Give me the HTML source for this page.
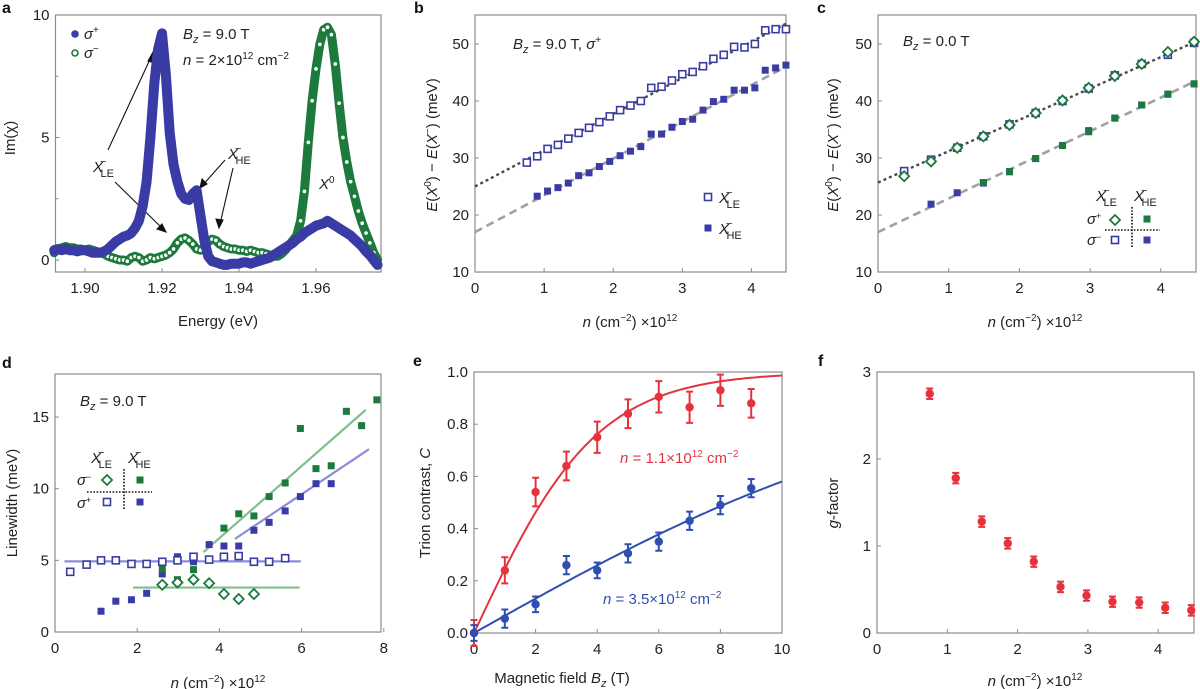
<!DOCTYPE html>
<html><head><meta charset="utf-8">
<style>
html,body{margin:0;padding:0;background:#fff;}
svg{display:block;font-family:"Liberation Sans",Arial,sans-serif;}
.t{font-size:15px;fill:#222;}
.lt{font-size:16px;font-weight:bold;fill:#111;}
.it{font-style:italic;}
</style></head>
<body>
<svg id="fig" width="1200" height="689" viewBox="0 0 1200 689" xmlns="http://www.w3.org/2000/svg">
<g id="static">
<text class="lt" x="2" y="13">a</text>
<text class="lt" x="414" y="13">b</text>
<text class="lt" x="817" y="13">c</text>
<text class="lt" x="2" y="368">d</text>
<text class="lt" x="413" y="366">e</text>
<text class="lt" x="818" y="366">f</text>

<text class="t" transform="translate(15,138) rotate(-90)" text-anchor="middle">Im(χ)</text>
<text class="t" x="218" y="326" text-anchor="middle">Energy (eV)</text>
<text class="t" x="183" y="39"><tspan class="it">B</tspan><tspan class="it" font-size="11" dy="4">z</tspan><tspan dy="-4"> = 9.0 T</tspan></text>
<text class="t" x="183" y="65"><tspan class="it">n</tspan> = 2×10<tspan font-size="10" dy="-6">12</tspan><tspan dy="6"> cm</tspan><tspan font-size="10" dy="-6">−2</tspan></text>
<circle cx="75" cy="34" r="3.8" fill="#3b3ba6"/>
<text class="t" x="84" y="39" font-size="14"><tspan class="it">σ</tspan><tspan font-size="10" dy="-6">+</tspan></text>
<circle cx="75" cy="53" r="3" fill="#fff" stroke="#1b7a3c" stroke-width="1.6"/>
<text class="t" x="84" y="58" font-size="14"><tspan class="it">σ</tspan><tspan font-size="10" dy="-6">−</tspan></text>

<g stroke="#111" stroke-width="1.1" fill="#111">
<line x1="108" y1="150" x2="152" y2="55"/><polygon points="153,52 148,61 155,63"/>
<line x1="115" y1="182" x2="163" y2="229"/><polygon points="166,232 157,229 162,224"/>
<line x1="225" y1="160" x2="202" y2="186"/><polygon points="200,188 202,179 207,184"/>
<line x1="233" y1="168" x2="220" y2="224"/><polygon points="219,228 216,219 223,220"/>
</g>
<text class="t" x="93" y="172"><tspan class="it">X</tspan><tspan font-size="11" dy="-7" dx="-3">−</tspan><tspan font-size="11" dy="12" dx="-6">LE</tspan></text>
<text class="t" x="228" y="159"><tspan class="it">X</tspan><tspan font-size="11" dy="-7" dx="-3">−</tspan><tspan font-size="11" dy="12" dx="-6">HE</tspan></text>
<text class="t" x="319" y="189"><tspan class="it">X</tspan><tspan font-size="10" dy="-6">0</tspan></text>

<text class="t" transform="translate(437,145) rotate(-90)" text-anchor="middle"><tspan class="it">E</tspan>(<tspan class="it">X</tspan><tspan font-size="10" dy="-6">0</tspan><tspan dy="6">) − </tspan><tspan class="it">E</tspan>(<tspan class="it">X</tspan><tspan font-size="10" dy="-6">−</tspan><tspan dy="6">) (meV)</tspan></text>
<text class="t" x="630" y="327" text-anchor="middle"><tspan class="it">n</tspan> (cm<tspan font-size="10" dy="-6">−2</tspan><tspan dy="6">) ×10</tspan><tspan font-size="10" dy="-6">12</tspan></text>
<text class="t" x="513" y="49"><tspan class="it">B</tspan><tspan class="it" font-size="11" dy="4">z</tspan><tspan dy="-4"> = 9.0 T, </tspan><tspan class="it">σ</tspan><tspan font-size="10" dy="-6">+</tspan></text>
<rect x="704.5" y="193.5" width="7" height="7" fill="#fff" stroke="#3b3ba6" stroke-width="1.6"/>
<text class="t" x="719" y="203"><tspan class="it">X</tspan><tspan font-size="11" dy="-7" dx="-3">−</tspan><tspan font-size="11" dy="12" dx="-6">LE</tspan></text>
<rect x="704.5" y="224.5" width="7" height="7" fill="#3b3ba6"/>
<text class="t" x="719" y="234"><tspan class="it">X</tspan><tspan font-size="11" dy="-7" dx="-3">−</tspan><tspan font-size="11" dy="12" dx="-6">HE</tspan></text>

<text class="t" transform="translate(838,145) rotate(-90)" text-anchor="middle"><tspan class="it">E</tspan>(<tspan class="it">X</tspan><tspan font-size="10" dy="-6">0</tspan><tspan dy="6">) − </tspan><tspan class="it">E</tspan>(<tspan class="it">X</tspan><tspan font-size="10" dy="-6">−</tspan><tspan dy="6">) (meV)</tspan></text>
<text class="t" x="1035" y="327" text-anchor="middle"><tspan class="it">n</tspan> (cm<tspan font-size="10" dy="-6">−2</tspan><tspan dy="6">) ×10</tspan><tspan font-size="10" dy="-6">12</tspan></text>
<text class="t" x="903" y="46"><tspan class="it">B</tspan><tspan class="it" font-size="11" dy="4">z</tspan><tspan dy="-4"> = 0.0 T</tspan></text>
<g>
<text class="t" x="1096" y="201"><tspan class="it">X</tspan><tspan font-size="11" dy="-7" dx="-3">−</tspan><tspan font-size="11" dy="12" dx="-6">LE</tspan></text>
<text class="t" x="1134" y="201"><tspan class="it">X</tspan><tspan font-size="11" dy="-7" dx="-3">−</tspan><tspan font-size="11" dy="12" dx="-6">HE</tspan></text>
<text class="t" x="1087" y="224" font-size="13"><tspan class="it">σ</tspan><tspan font-size="9" dy="-5">+</tspan></text>
<text class="t" x="1087" y="245" font-size="13"><tspan class="it">σ</tspan><tspan font-size="9" dy="-5">−</tspan></text>
<polygon points="1115,215 1120,220 1115,225 1110,220" fill="#fff" stroke="#1b7a3c" stroke-width="1.8"/>
<rect x="1143.5" y="215.5" width="7" height="7" fill="#1b7a3c"/>
<rect x="1111.5" y="236.5" width="7" height="7" fill="#fff" stroke="#3b3ba6" stroke-width="1.6"/>
<rect x="1143.5" y="236.5" width="7" height="7" fill="#3b3ba6"/>
<line x1="1105" y1="230" x2="1160" y2="230" stroke="#111" stroke-width="1.6" stroke-dasharray="1.6,1.6"/>
<line x1="1132" y1="207" x2="1132" y2="248" stroke="#111" stroke-width="1.6" stroke-dasharray="1.6,1.6"/>
</g>

<text class="t" transform="translate(17,503) rotate(-90)" text-anchor="middle">Linewidth (meV)</text>
<text class="t" x="218" y="688" text-anchor="middle"><tspan class="it">n</tspan> (cm<tspan font-size="10" dy="-6">−2</tspan><tspan dy="6">) ×10</tspan><tspan font-size="10" dy="-6">12</tspan></text>
<text class="t" x="80" y="406"><tspan class="it">B</tspan><tspan class="it" font-size="11" dy="4">z</tspan><tspan dy="-4"> = 9.0 T</tspan></text>
<g>
<text class="t" x="91" y="463"><tspan class="it">X</tspan><tspan font-size="11" dy="-7" dx="-3">−</tspan><tspan font-size="11" dy="12" dx="-6">LE</tspan></text>
<text class="t" x="128" y="463"><tspan class="it">X</tspan><tspan font-size="11" dy="-7" dx="-3">−</tspan><tspan font-size="11" dy="12" dx="-6">HE</tspan></text>
<text class="t" x="77" y="485" font-size="13"><tspan class="it">σ</tspan><tspan font-size="9" dy="-5">−</tspan></text>
<text class="t" x="77" y="508" font-size="13"><tspan class="it">σ</tspan><tspan font-size="9" dy="-5">+</tspan></text>
<polygon points="107,475 112,480 107,485 102,480" fill="#fff" stroke="#1b7a3c" stroke-width="1.8"/>
<rect x="136.5" y="476.5" width="7" height="7" fill="#1b7a3c"/>
<rect x="103.5" y="498.5" width="7" height="7" fill="#fff" stroke="#3b3ba6" stroke-width="1.6"/>
<rect x="136.5" y="498.5" width="7" height="7" fill="#3b3ba6"/>
<line x1="87" y1="492" x2="152" y2="492" stroke="#111" stroke-width="1.6" stroke-dasharray="1.6,1.6"/>
<line x1="124" y1="469" x2="124" y2="509" stroke="#111" stroke-width="1.6" stroke-dasharray="1.6,1.6"/>
</g>

<text class="t" transform="translate(430,503) rotate(-90)" text-anchor="middle">Trion contrast, <tspan class="it">C</tspan></text>
<text class="t" x="562" y="683" text-anchor="middle">Magnetic field <tspan class="it">B</tspan><tspan class="it" font-size="11" dy="4">z</tspan><tspan dy="-4"> (T)</tspan></text>
<text class="t" x="620" y="463" style="fill:#e5333d"><tspan class="it">n</tspan> = 1.1×10<tspan font-size="10" dy="-6">12</tspan><tspan dy="6"> cm</tspan><tspan font-size="10" dy="-6">−2</tspan></text>
<text class="t" x="603" y="604" style="fill:#2e4fb0"><tspan class="it">n</tspan> = 3.5×10<tspan font-size="10" dy="-6">12</tspan><tspan dy="6"> cm</tspan><tspan font-size="10" dy="-6">−2</tspan></text>

<text class="t" transform="translate(838,503) rotate(-90)" text-anchor="middle"><tspan class="it">g</tspan>-factor</text>
<text class="t" x="1035" y="686" text-anchor="middle"><tspan class="it">n</tspan> (cm<tspan font-size="10" dy="-6">−2</tspan><tspan dy="6">) ×10</tspan><tspan font-size="10" dy="-6">12</tspan></text>
</g>
<g id="dyn"></g>
</svg>
<script>
// ---------- data ----------
const aEnergyStart = 1.892, aEnergyStep = 0.001;
const aSigmaPlus = [0.4,0.45,0.4,0.45,0.4,0.4,0.35,0.4,0.4,0.35,0.3,0.3,
0.3,0.35,0.45,0.6,0.75,0.85,0.95,1.0,1.1,1.3,1.6,2.2,3.2,5.0,7.2,8.6,9.25,7.6,5.2,3.9,3.2,2.7,2.5,2.45,2.7,2.85,1.8,0.8,0.15,-0.05,-0.1,-0.15,-0.2,-0.2,-0.15,-0.15,-0.15,-0.1,-0.1,-0.15,-0.1,-0.05,0.0,0.05,0.1,0.2,0.3,0.4,0.5,0.6,0.7,0.85,0.95,1.1,1.2,1.3,1.4,1.45,1.5,1.6,1.5,1.4,1.3,1.2,1.1,1.0,0.85,0.7,0.55,0.35,0.2,0.0,-0.2];
const aSigmaMinus = [0.3,0.45,0.5,0.55,0.5,0.5,0.45,0.45,0.4,0.45,0.4,0.35,
0.3,0.25,0.15,0.1,0.05,0.0,0.0,-0.05,0.1,0.15,0.1,-0.05,0.0,0.1,0.05,0.1,0.15,0.2,0.3,0.45,0.7,0.85,0.9,0.8,0.65,0.45,0.4,0.5,0.75,0.85,0.8,0.65,0.55,0.5,0.45,0.45,0.4,0.4,0.35,0.4,0.35,0.3,0.3,0.25,0.2,0.15,0.15,0.25,0.4,0.6,0.8,1.0,1.6,2.8,4.8,6.5,7.8,8.8,9.4,9.5,9.2,8.0,6.4,5.0,4.0,3.2,2.6,2.0,1.5,1.1,0.7,0.3,0.0];
const aXTicks = [1.90,1.92,1.94,1.96];
const aYTicks = [0,5,10];

const bLEn = [0.75,0.9,1.05,1.2,1.35,1.5,1.65,1.8,1.95,2.1,2.25,2.4,2.55,2.7,2.85,3.0,3.15,3.3,3.45,3.6,3.75,3.9,4.05,4.2,4.35,4.5];
const bLE = [29.2,30.3,31.6,32.3,33.4,34.4,35.3,36.3,37.3,38.4,39.2,40.0,42.3,42.5,43.6,44.7,45.1,46.1,47.4,48.1,49.5,49.4,50.0,52.4,52.6,52.6];
const bHEn = [0.9,1.05,1.2,1.35,1.5,1.65,1.8,1.95,2.1,2.25,2.4,2.55,2.7,2.85,3.0,3.15,3.3,3.45,3.6,3.75,3.9,4.05,4.2,4.35,4.5];
const bHE = [23.3,24.2,24.8,25.6,26.9,27.4,28.5,29.4,30.4,31.2,32.0,34.2,34.2,35.4,36.4,36.8,38.4,39.9,40.3,41.9,41.9,42.3,45.4,45.8,46.3];
const bFitIntercept = [25.0,17.0];
const bFitSlope = [6.35,6.45];
const nTicks = [0,1,2,3,4];
const eYTicksBC = [10,20,30,40,50];

const cN = [0.37,0.75,1.12,1.49,1.86,2.23,2.61,2.98,3.35,3.73,4.1,4.47];
const cLEplus = [26.8,29.4,31.8,33.8,35.8,37.9,40.1,42.3,44.4,46.5,48.6,50.4];
const cLEminus = [27.7,29.7,31.8,33.8,35.9,37.9,40.0,42.2,44.5,46.5,48.1,50.2];
const cHEminusN = [0.75,1.12,1.49,1.86,2.23,2.61,2.98,3.35,3.73,4.1,4.47];
const cHEminus = [21.9,23.9,25.6,27.6,29.9,32.2,34.8,37.0,39.3,41.2,43.0];
const cHEplusN = [1.49,1.86,2.23,2.61,2.98,3.35,3.73,4.1,4.47];
const cHEplus = [25.7,27.6,29.9,32.2,34.6,37.0,39.3,41.2,43.0];
const cFitIntercept = [25.7,17.0];
const cFitSlope = [5.5,5.9];

const dLEplusN = [0.37,0.77,1.12,1.48,1.86,2.23,2.61,2.98,3.37,3.75,4.11,4.47,4.84,5.21,5.6];
const dLEplus = [4.2,4.7,5.0,5.0,4.75,4.75,4.9,5.0,5.25,5.05,5.25,5.3,4.9,4.9,5.15];
const dHEplusN = [1.12,1.48,1.86,2.23,2.61,2.98,3.37,3.75,4.11,4.47,4.84,5.21,5.6,5.97,6.35,6.72];
const dHEplus = [1.45,2.15,2.25,2.7,4.05,5.25,4.9,6.1,6.0,6.0,7.1,7.65,8.45,9.45,10.35,10.35];
const dHEminusN = [2.61,2.98,3.37,4.11,4.47,4.84,5.21,5.6,5.97,6.35,6.72,7.09,7.46,7.83];
const dHEminus = [4.4,3.65,4.35,7.25,8.25,8.1,9.45,10.4,14.2,11.4,11.6,15.4,14.4,16.2];
const dLEminusN = [2.61,2.98,3.37,3.75,4.11,4.47,4.84];
const dLEminus = [3.3,3.45,3.65,3.4,2.65,2.3,2.65];
const dFitX1 = [0.23,1.9,3.61,4.38];
const dFitY1 = [4.93,3.1,5.57,6.5];
const dFitX2 = [5.98,5.95,7.56,7.64];
const dFitY2 = [4.93,3.1,15.5,12.76];
const dXTicks = [0,2,4,6,8];
const dYTicks = [0,5,10,15];

const eField = [0,1,2,3,4,5,6,7,8,9];
const eRed = [0.0,0.24,0.54,0.64,0.75,0.84,0.905,0.865,0.93,0.88];
const eRedErr = [0.05,0.05,0.055,0.055,0.06,0.055,0.06,0.06,0.06,0.055];
const eBlue = [0.0,0.055,0.11,0.26,0.24,0.305,0.35,0.43,0.49,0.555];
const eBlueErr = [0.03,0.035,0.03,0.035,0.03,0.035,0.035,0.035,0.035,0.035];
const eFitK = [0.25,0.0663];
const eXTicks = [0,2,4,6,8,10];
const eYTicks = [0.0,0.2,0.4,0.6,0.8,1.0];

const fN = [0.75,1.12,1.49,1.86,2.23,2.61,2.98,3.35,3.73,4.1,4.47];
const fG = [2.75,1.78,1.28,1.03,0.82,0.53,0.43,0.36,0.35,0.29,0.26];
const fErr = [0.06,0.06,0.06,0.06,0.06,0.06,0.06,0.06,0.06,0.06,0.06];
const fYTicks = [0,1,2,3];

// ---------- helpers ----------
const NS = 'http://www.w3.org/2000/svg';
const root = document.getElementById('dyn');
function mk(tag, attrs, parent) {
  const e = document.createElementNS(NS, tag);
  for (const k in attrs) e.setAttribute(k, attrs[k]);
  (parent || root).appendChild(e);
  return e;
}
const BLUE = '#3b3ba6', GREEN = '#1b7a3c', RED = '#e5333d', EBLUE = '#2e4fb0';

const xA = e => 85 + (e - 1.90) * 3850, yA = v => 260 - v * 24.5;
const xB = n => 475 + n * 69.1, yB = v => 272 - (v - 10) * 5.7;
const xC = n => 878 + n * 70.7, yC = v => 272 - (v - 10) * 5.7;
const xD = n => 55 + n * 41.1, yD = v => 632 - v * 14.33;
const xE = b => 474 + b * 30.8, yE = v => 633 - v * 261;
const xF = n => 877 + n * 70.3, yF = v => 633 - v * 87;

function axes(p, x0, y0, x1, y1, xs, xt, xfmt, ys, yt, yfmt) {
  const fr = mk('rect', {x: x0, y: y0, width: x1 - x0, height: y1 - y0, fill: 'none', stroke: '#8c8c8c', 'stroke-width': 1.2});
  
  
  xt.forEach(v => {
    const X = xs(v);
    const tk = mk('line', {x1: X, x2: X, y1: y1, y2: y1 - 4, stroke: '#8c8c8c', 'stroke-width': 1});
    
    
    const lb = mk('text', {x: X, y: y1 + 21, 'text-anchor': 'middle', class: 't'});
    lb.textContent = xfmt(v);
    
    
  });
  yt.forEach(v => {
    const Y = ys(v);
    const tk = mk('line', {x1: x0, x2: x0 + 4, y1: Y, y2: Y, stroke: '#8c8c8c', 'stroke-width': 1});
    
    
    const lb = mk('text', {x: x0 - 6, y: Y + 5, 'text-anchor': 'end', class: 't'});
    lb.textContent = yfmt(v);
    
    
  });
}
function sq(x, y, s, fill, stroke, name) {
  const r = mk('rect', {x: x - s / 2, y: y - s / 2, width: s, height: s, fill: fill, stroke: stroke || 'none', 'stroke-width': stroke ? 1.6 : 0});
  
  
}
function dia(x, y, s, color, name) {
  const d = mk('polygon', {points: `${x},${y - s} ${x + s},${y} ${x},${y + s} ${x - s},${y}`, fill: '#fff', stroke: color, 'stroke-width': 1.8});
  
  
}
function fitLine(xs, ys, xa, ya, xb, yb, color, w, dash, name) {
  const l = mk('line', {x1: xs(xa), y1: ys(ya), x2: xs(xb), y2: ys(yb), stroke: color, 'stroke-width': w});
  if (dash) l.setAttribute('stroke-dasharray', dash);
  
  
}

// ---------- panel a ----------
axes('a', 55.5, 15, 381, 272, xA, aXTicks, v => v.toFixed(2), yA, aYTicks, v => String(v));
[2.5, 7.5].forEach(v => {
  const tk = mk('line', {x1: 55.5, x2: 58.5, y1: yA(v), y2: yA(v), stroke: '#8c8c8c', 'stroke-width': 1});
  
  
});
function spectrum(vals, color, open, name) {
  const pts = vals.map((v, i) => xA(aEnergyStart + i * aEnergyStep).toFixed(1) + ',' + yA(v).toFixed(1)).join(' ');
  const band = mk('polyline', {points: pts, fill: 'none', stroke: color, 'stroke-width': open ? 9 : 10, 'stroke-linejoin': 'round', 'stroke-linecap': 'round'});
  
  
  vals.forEach((v, i) => {
    const c = mk('circle', {cx: xA(aEnergyStart + i * aEnergyStep), cy: yA(v), r: open ? 2.6 : 4.5, fill: open ? '#fff' : color, stroke: color, 'stroke-width': open ? 1.5 : 0});
    
    
  });
}
spectrum(aSigmaMinus, GREEN, true, 'a-sigma-minus');
spectrum(aSigmaPlus, BLUE, false, 'a-sigma-plus');

// ---------- panel b ----------
axes('b', 475, 15, 786, 272, xB, nTicks, v => String(v), yB, eYTicksBC, v => String(v));
fitLine(xB, yB, 0, bFitIntercept[0], 4.5, bFitIntercept[0] + bFitSlope[0] * 4.5, '#4a4a4a', 2.4, '3,3', 'b-le-fit-line');
fitLine(xB, yB, 0, bFitIntercept[1], 4.5, bFitIntercept[1] + bFitSlope[1] * 4.5, '#a0a0a0', 2.6, '8,5', 'b-he-fit-line');
bLE.forEach((v, i) => sq(xB(bLEn[i]), yB(v), 7, '#fff', BLUE, 'b-le-point'));
bHE.forEach((v, i) => sq(xB(bHEn[i]), yB(v), 7, BLUE, null, 'b-he-point'));

// ---------- panel c ----------
axes('c', 878, 15, 1196, 272, xC, nTicks, v => String(v), yC, eYTicksBC, v => String(v));
fitLine(xC, yC, 0, cFitIntercept[0], 4.5, cFitIntercept[0] + cFitSlope[0] * 4.5, '#4a4a4a', 2.4, '3,3', 'c-le-fit-line');
fitLine(xC, yC, 0, cFitIntercept[1], 4.5, cFitIntercept[1] + cFitSlope[1] * 4.5, '#a0a0a0', 2.6, '8,5', 'c-he-fit-line');
cLEminus.forEach((v, i) => sq(xC(cN[i]), yC(v), 7, '#fff', BLUE, 'c-le-sigma-minus-point'));
cLEplus.forEach((v, i) => dia(xC(cN[i]), yC(v), 5, GREEN, 'c-le-sigma-plus-point'));
cHEminus.forEach((v, i) => sq(xC(cHEminusN[i]), yC(v), 7, BLUE, null, 'c-he-sigma-minus-point'));
cHEplus.forEach((v, i) => sq(xC(cHEplusN[i]), yC(v), 7, GREEN, null, 'c-he-sigma-plus-point'));

// ---------- panel d ----------
axes('d', 55, 374, 381, 632, xD, dXTicks, v => String(v), yD, dYTicks, v => String(v));
const dFitColors = ['#8c8cd8', '#7fbf8c', '#7fbf8c', '#8c8cd8'];
dFitX1.forEach((x, i) => fitLine(xD, yD, x, dFitY1[i], dFitX2[i], dFitY2[i], dFitColors[i], 2.2, null, 'd-fit-line'));
dHEplus.forEach((v, i) => sq(xD(dHEplusN[i]), yD(v), 7, BLUE, null, 'd-he-sigma-plus-point'));
dHEminus.forEach((v, i) => sq(xD(dHEminusN[i]), yD(v), 7, GREEN, null, 'd-he-sigma-minus-point'));
dLEplus.forEach((v, i) => sq(xD(dLEplusN[i]), yD(v), 7, '#fff', BLUE, 'd-le-sigma-plus-point'));
dLEminus.forEach((v, i) => dia(xD(dLEminusN[i]), yD(v), 5, GREEN, 'd-le-sigma-minus-point'));

// ---------- panel e ----------
axes('e', 474, 372, 782, 633, xE, eXTicks, v => String(v), yE, eYTicks, v => v.toFixed(1));
[[eRed, eRedErr, RED, eFitK[0], 'e-red'], [eBlue, eBlueErr, EBLUE, eFitK[1], 'e-blue']].forEach(([vals, errs, col, k, nm]) => {
  const pts = [];
  for (let i = 0; i <= 100; i++) { const b = i / 10; pts.push(xE(b).toFixed(1) + ',' + yE(Math.tanh(k * b)).toFixed(1)); }
  const fl = mk('polyline', {points: pts.join(' '), fill: 'none', stroke: col, 'stroke-width': 2});
  
  
  vals.forEach((v, i) => {
    const X = xE(eField[i]), Yt = yE(v + errs[i]), Yb = yE(v - errs[i]);
    const eb = mk('path', {d: `M${X},${Yt}V${Yb}M${X - 3.5},${Yt}H${X + 3.5}M${X - 3.5},${Yb}H${X + 3.5}`, stroke: col, 'stroke-width': 2, fill: 'none'});
    
    
    const c = mk('circle', {cx: X, cy: yE(v), r: 4.2, fill: col});
    
    
  });
});

// ---------- panel f ----------
axes('f', 877, 372, 1194, 633, xF, nTicks, v => String(v), yF, fYTicks, v => String(v));
fG.forEach((v, i) => {
  const X = xF(fN[i]), Yt = yF(v + fErr[i]), Yb = yF(v - fErr[i]);
  const eb = mk('path', {d: `M${X},${Yt}V${Yb}M${X - 3.5},${Yt}H${X + 3.5}M${X - 3.5},${Yb}H${X + 3.5}`, stroke: RED, 'stroke-width': 2, fill: 'none'});
  
  
  const c = mk('circle', {cx: X, cy: yF(v), r: 4.2, fill: RED});
  
  
});
</script>
</body></html>
